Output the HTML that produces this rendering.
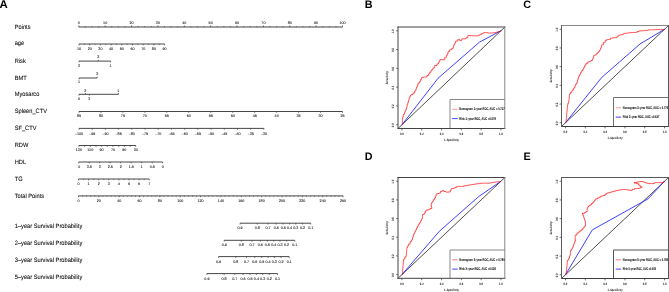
<!DOCTYPE html>
<html><head><meta charset="utf-8"><title>Nomogram and ROC curves</title>
<style>
html,body{margin:0;padding:0;background:#fff;width:669px;height:292px;overflow:hidden}
svg{display:block}
text{font-family:"Liberation Sans", Arial, sans-serif;text-rendering:geometricPrecision}
</style></head>
<body>
<svg width="669" height="292" viewBox="0 0 669 292">
<rect width="669" height="292" fill="#fff"/>
<text x="-0.4" y="7.7" font-size="11.4" text-anchor="start" font-weight="bold" fill="#000">A</text>
<text x="14.7" y="29" font-size="6.3" text-anchor="start" fill="#000" stroke="#000" stroke-width="0.06" textLength="15.81" lengthAdjust="spacingAndGlyphs">Points</text>
<text x="14.7" y="45.3" font-size="6.3" text-anchor="start" fill="#000" stroke="#000" stroke-width="0.06" textLength="9.5" lengthAdjust="spacingAndGlyphs">age</text>
<text x="14.7" y="62.6" font-size="6.3" text-anchor="start" fill="#000" stroke="#000" stroke-width="0.06" textLength="11.06" lengthAdjust="spacingAndGlyphs">Risk</text>
<text x="14.7" y="79.5" font-size="6.3" text-anchor="start" fill="#000" stroke="#000" stroke-width="0.06" textLength="12.02" lengthAdjust="spacingAndGlyphs">BMT</text>
<text x="14.7" y="95.6" font-size="6.3" text-anchor="start" fill="#000" stroke="#000" stroke-width="0.06" textLength="24.66" lengthAdjust="spacingAndGlyphs">Myosarco</text>
<text x="14.7" y="113.3" font-size="6.3" text-anchor="start" fill="#000" stroke="#000" stroke-width="0.06" textLength="32.25" lengthAdjust="spacingAndGlyphs">Spleen_CTV</text>
<text x="14.7" y="129.8" font-size="6.3" text-anchor="start" fill="#000" stroke="#000" stroke-width="0.06" textLength="21.81" lengthAdjust="spacingAndGlyphs">SF_CTV</text>
<text x="14.7" y="146.7" font-size="6.3" text-anchor="start" fill="#000" stroke="#000" stroke-width="0.06" textLength="13.59" lengthAdjust="spacingAndGlyphs">RDW</text>
<text x="14.7" y="163.6" font-size="6.3" text-anchor="start" fill="#000" stroke="#000" stroke-width="0.06" textLength="11.39" lengthAdjust="spacingAndGlyphs">HDL</text>
<text x="14.7" y="180.5" font-size="6.3" text-anchor="start" fill="#000" stroke="#000" stroke-width="0.06" textLength="7.91" lengthAdjust="spacingAndGlyphs">TG</text>
<text x="14.7" y="198" font-size="6.3" text-anchor="start" fill="#000" stroke="#000" stroke-width="0.06" textLength="29.41" lengthAdjust="spacingAndGlyphs">Total Points</text>
<text x="14.7" y="228" font-size="6.3" text-anchor="start" fill="#000" stroke="#000" stroke-width="0.06" textLength="67.6" lengthAdjust="spacingAndGlyphs">1–year Survival Probability</text>
<text x="14.7" y="244.9" font-size="6.3" text-anchor="start" fill="#000" stroke="#000" stroke-width="0.06" textLength="67.6" lengthAdjust="spacingAndGlyphs">2–year Survival Probability</text>
<text x="14.7" y="261.8" font-size="6.3" text-anchor="start" fill="#000" stroke="#000" stroke-width="0.06" textLength="67.6" lengthAdjust="spacingAndGlyphs">3–year Survival Probability</text>
<text x="14.7" y="278.7" font-size="6.3" text-anchor="start" fill="#000" stroke="#000" stroke-width="0.06" textLength="67.6" lengthAdjust="spacingAndGlyphs">5–year Survival Probability</text>
<line x1="78.8" y1="26.9" x2="342.5" y2="26.9" stroke="#808080" stroke-width="1.5"/>
<line x1="78.8" y1="26.9" x2="78.8" y2="25.5" stroke="#222" stroke-width="0.7"/>
<text x="78.8" y="23.7" font-size="3.7" text-anchor="middle" fill="#000" stroke="#000" stroke-width="0.05">0</text>
<line x1="85.39" y1="27.2" x2="85.39" y2="26" stroke="#444" stroke-width="0.6"/>
<line x1="91.98" y1="27.2" x2="91.98" y2="26" stroke="#444" stroke-width="0.6"/>
<line x1="98.58" y1="27.2" x2="98.58" y2="26" stroke="#444" stroke-width="0.6"/>
<line x1="105.17" y1="26.9" x2="105.17" y2="25.5" stroke="#222" stroke-width="0.7"/>
<text x="105.17" y="23.7" font-size="3.7" text-anchor="middle" fill="#000" stroke="#000" stroke-width="0.05">10</text>
<line x1="111.76" y1="27.2" x2="111.76" y2="26" stroke="#444" stroke-width="0.6"/>
<line x1="118.35" y1="27.2" x2="118.35" y2="26" stroke="#444" stroke-width="0.6"/>
<line x1="124.95" y1="27.2" x2="124.95" y2="26" stroke="#444" stroke-width="0.6"/>
<line x1="131.54" y1="26.9" x2="131.54" y2="25.5" stroke="#222" stroke-width="0.7"/>
<text x="131.54" y="23.7" font-size="3.7" text-anchor="middle" fill="#000" stroke="#000" stroke-width="0.05">20</text>
<line x1="138.13" y1="27.2" x2="138.13" y2="26" stroke="#444" stroke-width="0.6"/>
<line x1="144.72" y1="27.2" x2="144.72" y2="26" stroke="#444" stroke-width="0.6"/>
<line x1="151.32" y1="27.2" x2="151.32" y2="26" stroke="#444" stroke-width="0.6"/>
<line x1="157.91" y1="26.9" x2="157.91" y2="25.5" stroke="#222" stroke-width="0.7"/>
<text x="157.91" y="23.7" font-size="3.7" text-anchor="middle" fill="#000" stroke="#000" stroke-width="0.05">30</text>
<line x1="164.5" y1="27.2" x2="164.5" y2="26" stroke="#444" stroke-width="0.6"/>
<line x1="171.09" y1="27.2" x2="171.09" y2="26" stroke="#444" stroke-width="0.6"/>
<line x1="177.69" y1="27.2" x2="177.69" y2="26" stroke="#444" stroke-width="0.6"/>
<line x1="184.28" y1="26.9" x2="184.28" y2="25.5" stroke="#222" stroke-width="0.7"/>
<text x="184.28" y="23.7" font-size="3.7" text-anchor="middle" fill="#000" stroke="#000" stroke-width="0.05">40</text>
<line x1="190.87" y1="27.2" x2="190.87" y2="26" stroke="#444" stroke-width="0.6"/>
<line x1="197.47" y1="27.2" x2="197.47" y2="26" stroke="#444" stroke-width="0.6"/>
<line x1="204.06" y1="27.2" x2="204.06" y2="26" stroke="#444" stroke-width="0.6"/>
<line x1="210.65" y1="26.9" x2="210.65" y2="25.5" stroke="#222" stroke-width="0.7"/>
<text x="210.65" y="23.7" font-size="3.7" text-anchor="middle" fill="#000" stroke="#000" stroke-width="0.05">50</text>
<line x1="217.24" y1="27.2" x2="217.24" y2="26" stroke="#444" stroke-width="0.6"/>
<line x1="223.83" y1="27.2" x2="223.83" y2="26" stroke="#444" stroke-width="0.6"/>
<line x1="230.43" y1="27.2" x2="230.43" y2="26" stroke="#444" stroke-width="0.6"/>
<line x1="237.02" y1="26.9" x2="237.02" y2="25.5" stroke="#222" stroke-width="0.7"/>
<text x="237.02" y="23.7" font-size="3.7" text-anchor="middle" fill="#000" stroke="#000" stroke-width="0.05">60</text>
<line x1="243.61" y1="27.2" x2="243.61" y2="26" stroke="#444" stroke-width="0.6"/>
<line x1="250.2" y1="27.2" x2="250.2" y2="26" stroke="#444" stroke-width="0.6"/>
<line x1="256.8" y1="27.2" x2="256.8" y2="26" stroke="#444" stroke-width="0.6"/>
<line x1="263.39" y1="26.9" x2="263.39" y2="25.5" stroke="#222" stroke-width="0.7"/>
<text x="263.39" y="23.7" font-size="3.7" text-anchor="middle" fill="#000" stroke="#000" stroke-width="0.05">70</text>
<line x1="269.98" y1="27.2" x2="269.98" y2="26" stroke="#444" stroke-width="0.6"/>
<line x1="276.57" y1="27.2" x2="276.57" y2="26" stroke="#444" stroke-width="0.6"/>
<line x1="283.17" y1="27.2" x2="283.17" y2="26" stroke="#444" stroke-width="0.6"/>
<line x1="289.76" y1="26.9" x2="289.76" y2="25.5" stroke="#222" stroke-width="0.7"/>
<text x="289.76" y="23.7" font-size="3.7" text-anchor="middle" fill="#000" stroke="#000" stroke-width="0.05">80</text>
<line x1="296.35" y1="27.2" x2="296.35" y2="26" stroke="#444" stroke-width="0.6"/>
<line x1="302.94" y1="27.2" x2="302.94" y2="26" stroke="#444" stroke-width="0.6"/>
<line x1="309.54" y1="27.2" x2="309.54" y2="26" stroke="#444" stroke-width="0.6"/>
<line x1="316.13" y1="26.9" x2="316.13" y2="25.5" stroke="#222" stroke-width="0.7"/>
<text x="316.13" y="23.7" font-size="3.7" text-anchor="middle" fill="#000" stroke="#000" stroke-width="0.05">90</text>
<line x1="322.72" y1="27.2" x2="322.72" y2="26" stroke="#444" stroke-width="0.6"/>
<line x1="329.31" y1="27.2" x2="329.31" y2="26" stroke="#444" stroke-width="0.6"/>
<line x1="335.91" y1="27.2" x2="335.91" y2="26" stroke="#444" stroke-width="0.6"/>
<line x1="342.5" y1="26.9" x2="342.5" y2="25.5" stroke="#222" stroke-width="0.7"/>
<text x="342.5" y="23.7" font-size="3.7" text-anchor="middle" fill="#000" stroke="#000" stroke-width="0.05">100</text>
<line x1="79" y1="44" x2="164.6" y2="44" stroke="#333" stroke-width="0.9"/>
<line x1="84.35" y1="44" x2="84.35" y2="44.91" stroke="#333" stroke-width="0.6"/>
<line x1="95.05" y1="44" x2="95.05" y2="44.91" stroke="#333" stroke-width="0.6"/>
<line x1="105.75" y1="44" x2="105.75" y2="44.91" stroke="#333" stroke-width="0.6"/>
<line x1="116.45" y1="44" x2="116.45" y2="44.91" stroke="#333" stroke-width="0.6"/>
<line x1="127.15" y1="44" x2="127.15" y2="44.91" stroke="#333" stroke-width="0.6"/>
<line x1="137.85" y1="44" x2="137.85" y2="44.91" stroke="#333" stroke-width="0.6"/>
<line x1="148.55" y1="44" x2="148.55" y2="44.91" stroke="#333" stroke-width="0.6"/>
<line x1="159.25" y1="44" x2="159.25" y2="44.91" stroke="#333" stroke-width="0.6"/>
<line x1="79" y1="44" x2="79" y2="45.3" stroke="#333" stroke-width="0.7"/>
<text x="79" y="49.5" font-size="3.7" text-anchor="middle" fill="#000" stroke="#000" stroke-width="0.05">10</text>
<line x1="89.7" y1="44" x2="89.7" y2="45.3" stroke="#333" stroke-width="0.7"/>
<text x="89.7" y="49.5" font-size="3.7" text-anchor="middle" fill="#000" stroke="#000" stroke-width="0.05">20</text>
<line x1="100.4" y1="44" x2="100.4" y2="45.3" stroke="#333" stroke-width="0.7"/>
<text x="100.4" y="49.5" font-size="3.7" text-anchor="middle" fill="#000" stroke="#000" stroke-width="0.05">30</text>
<line x1="111.1" y1="44" x2="111.1" y2="45.3" stroke="#333" stroke-width="0.7"/>
<text x="111.1" y="49.5" font-size="3.7" text-anchor="middle" fill="#000" stroke="#000" stroke-width="0.05">40</text>
<line x1="121.8" y1="44" x2="121.8" y2="45.3" stroke="#333" stroke-width="0.7"/>
<text x="121.8" y="49.5" font-size="3.7" text-anchor="middle" fill="#000" stroke="#000" stroke-width="0.05">50</text>
<line x1="132.5" y1="44" x2="132.5" y2="45.3" stroke="#333" stroke-width="0.7"/>
<text x="132.5" y="49.5" font-size="3.7" text-anchor="middle" fill="#000" stroke="#000" stroke-width="0.05">60</text>
<line x1="143.2" y1="44" x2="143.2" y2="45.3" stroke="#333" stroke-width="0.7"/>
<text x="143.2" y="49.5" font-size="3.7" text-anchor="middle" fill="#000" stroke="#000" stroke-width="0.05">70</text>
<line x1="153.9" y1="44" x2="153.9" y2="45.3" stroke="#333" stroke-width="0.7"/>
<text x="153.9" y="49.5" font-size="3.7" text-anchor="middle" fill="#000" stroke="#000" stroke-width="0.05">80</text>
<line x1="164.6" y1="44" x2="164.6" y2="45.3" stroke="#333" stroke-width="0.7"/>
<text x="164.6" y="49.5" font-size="3.7" text-anchor="middle" fill="#000" stroke="#000" stroke-width="0.05">90</text>
<line x1="79" y1="61.1" x2="110.6" y2="61.1" stroke="#333" stroke-width="0.9"/>
<line x1="79" y1="61.1" x2="79" y2="62.4" stroke="#333" stroke-width="0.7"/>
<text x="79" y="66.7" font-size="3.7" text-anchor="middle" fill="#000" stroke="#000" stroke-width="0.05">3</text>
<line x1="98.3" y1="61.1" x2="98.3" y2="59.8" stroke="#333" stroke-width="0.7"/>
<text x="98.3" y="57.8" font-size="3.7" text-anchor="middle" fill="#000" stroke="#000" stroke-width="0.05">2</text>
<line x1="110.6" y1="61.1" x2="110.6" y2="62.4" stroke="#333" stroke-width="0.7"/>
<text x="110.6" y="66.7" font-size="3.7" text-anchor="middle" fill="#000" stroke="#000" stroke-width="0.05">1</text>
<line x1="79" y1="78" x2="97.2" y2="78" stroke="#333" stroke-width="0.9"/>
<line x1="79" y1="78" x2="79" y2="79.3" stroke="#333" stroke-width="0.7"/>
<text x="79" y="82.9" font-size="3.7" text-anchor="middle" fill="#000" stroke="#000" stroke-width="0.05">1</text>
<line x1="97.2" y1="78" x2="97.2" y2="76.7" stroke="#333" stroke-width="0.7"/>
<text x="97.2" y="75.2" font-size="3.7" text-anchor="middle" fill="#000" stroke="#000" stroke-width="0.05">2</text>
<line x1="79" y1="94.3" x2="118.4" y2="94.3" stroke="#333" stroke-width="0.9"/>
<line x1="79" y1="94.3" x2="79" y2="95.6" stroke="#333" stroke-width="0.7"/>
<text x="79" y="99.9" font-size="3.7" text-anchor="middle" fill="#000" stroke="#000" stroke-width="0.05">0</text>
<line x1="85.4" y1="94.3" x2="85.4" y2="93" stroke="#333" stroke-width="0.7"/>
<text x="85.4" y="91.9" font-size="3.7" text-anchor="middle" fill="#000" stroke="#000" stroke-width="0.05">2</text>
<line x1="89.3" y1="94.3" x2="89.3" y2="95.6" stroke="#333" stroke-width="0.7"/>
<text x="89.3" y="99.9" font-size="3.7" text-anchor="middle" fill="#000" stroke="#000" stroke-width="0.05">3</text>
<line x1="118.4" y1="94.3" x2="118.4" y2="93" stroke="#333" stroke-width="0.7"/>
<text x="118.4" y="91.9" font-size="3.7" text-anchor="middle" fill="#000" stroke="#000" stroke-width="0.05">1</text>
<line x1="79" y1="111.5" x2="342.52" y2="111.5" stroke="#333" stroke-width="0.9"/>
<line x1="79" y1="111.5" x2="79" y2="112.8" stroke="#333" stroke-width="0.7"/>
<text x="79" y="116.8" font-size="3.7" text-anchor="middle" fill="#000" stroke="#000" stroke-width="0.05">85</text>
<line x1="100.96" y1="111.5" x2="100.96" y2="112.8" stroke="#333" stroke-width="0.7"/>
<text x="100.96" y="116.8" font-size="3.7" text-anchor="middle" fill="#000" stroke="#000" stroke-width="0.05">80</text>
<line x1="122.92" y1="111.5" x2="122.92" y2="112.8" stroke="#333" stroke-width="0.7"/>
<text x="122.92" y="116.8" font-size="3.7" text-anchor="middle" fill="#000" stroke="#000" stroke-width="0.05">75</text>
<line x1="144.88" y1="111.5" x2="144.88" y2="112.8" stroke="#333" stroke-width="0.7"/>
<text x="144.88" y="116.8" font-size="3.7" text-anchor="middle" fill="#000" stroke="#000" stroke-width="0.05">70</text>
<line x1="166.84" y1="111.5" x2="166.84" y2="112.8" stroke="#333" stroke-width="0.7"/>
<text x="166.84" y="116.8" font-size="3.7" text-anchor="middle" fill="#000" stroke="#000" stroke-width="0.05">65</text>
<line x1="188.8" y1="111.5" x2="188.8" y2="112.8" stroke="#333" stroke-width="0.7"/>
<text x="188.8" y="116.8" font-size="3.7" text-anchor="middle" fill="#000" stroke="#000" stroke-width="0.05">60</text>
<line x1="210.76" y1="111.5" x2="210.76" y2="112.8" stroke="#333" stroke-width="0.7"/>
<text x="210.76" y="116.8" font-size="3.7" text-anchor="middle" fill="#000" stroke="#000" stroke-width="0.05">55</text>
<line x1="232.72" y1="111.5" x2="232.72" y2="112.8" stroke="#333" stroke-width="0.7"/>
<text x="232.72" y="116.8" font-size="3.7" text-anchor="middle" fill="#000" stroke="#000" stroke-width="0.05">50</text>
<line x1="254.68" y1="111.5" x2="254.68" y2="112.8" stroke="#333" stroke-width="0.7"/>
<text x="254.68" y="116.8" font-size="3.7" text-anchor="middle" fill="#000" stroke="#000" stroke-width="0.05">45</text>
<line x1="276.64" y1="111.5" x2="276.64" y2="112.8" stroke="#333" stroke-width="0.7"/>
<text x="276.64" y="116.8" font-size="3.7" text-anchor="middle" fill="#000" stroke="#000" stroke-width="0.05">40</text>
<line x1="298.6" y1="111.5" x2="298.6" y2="112.8" stroke="#333" stroke-width="0.7"/>
<text x="298.6" y="116.8" font-size="3.7" text-anchor="middle" fill="#000" stroke="#000" stroke-width="0.05">35</text>
<line x1="320.56" y1="111.5" x2="320.56" y2="112.8" stroke="#333" stroke-width="0.7"/>
<text x="320.56" y="116.8" font-size="3.7" text-anchor="middle" fill="#000" stroke="#000" stroke-width="0.05">30</text>
<line x1="342.52" y1="111.5" x2="342.52" y2="112.8" stroke="#333" stroke-width="0.7"/>
<text x="342.52" y="116.8" font-size="3.7" text-anchor="middle" fill="#000" stroke="#000" stroke-width="0.05">25</text>
<line x1="79" y1="128.4" x2="263.94" y2="128.4" stroke="#333" stroke-width="0.9"/>
<line x1="79" y1="128.4" x2="79" y2="129.7" stroke="#333" stroke-width="0.7"/>
<text x="79" y="134.8" font-size="3.7" text-anchor="middle" fill="#000" stroke="#000" stroke-width="0.05">–100</text>
<line x1="92.21" y1="128.4" x2="92.21" y2="129.7" stroke="#333" stroke-width="0.7"/>
<text x="92.21" y="134.8" font-size="3.7" text-anchor="middle" fill="#000" stroke="#000" stroke-width="0.05">–95</text>
<line x1="105.42" y1="128.4" x2="105.42" y2="129.7" stroke="#333" stroke-width="0.7"/>
<text x="105.42" y="134.8" font-size="3.7" text-anchor="middle" fill="#000" stroke="#000" stroke-width="0.05">–90</text>
<line x1="118.63" y1="128.4" x2="118.63" y2="129.7" stroke="#333" stroke-width="0.7"/>
<text x="118.63" y="134.8" font-size="3.7" text-anchor="middle" fill="#000" stroke="#000" stroke-width="0.05">–85</text>
<line x1="131.84" y1="128.4" x2="131.84" y2="129.7" stroke="#333" stroke-width="0.7"/>
<text x="131.84" y="134.8" font-size="3.7" text-anchor="middle" fill="#000" stroke="#000" stroke-width="0.05">–80</text>
<line x1="145.05" y1="128.4" x2="145.05" y2="129.7" stroke="#333" stroke-width="0.7"/>
<text x="145.05" y="134.8" font-size="3.7" text-anchor="middle" fill="#000" stroke="#000" stroke-width="0.05">–75</text>
<line x1="158.26" y1="128.4" x2="158.26" y2="129.7" stroke="#333" stroke-width="0.7"/>
<text x="158.26" y="134.8" font-size="3.7" text-anchor="middle" fill="#000" stroke="#000" stroke-width="0.05">–70</text>
<line x1="171.47" y1="128.4" x2="171.47" y2="129.7" stroke="#333" stroke-width="0.7"/>
<text x="171.47" y="134.8" font-size="3.7" text-anchor="middle" fill="#000" stroke="#000" stroke-width="0.05">–65</text>
<line x1="184.68" y1="128.4" x2="184.68" y2="129.7" stroke="#333" stroke-width="0.7"/>
<text x="184.68" y="134.8" font-size="3.7" text-anchor="middle" fill="#000" stroke="#000" stroke-width="0.05">–60</text>
<line x1="197.89" y1="128.4" x2="197.89" y2="129.7" stroke="#333" stroke-width="0.7"/>
<text x="197.89" y="134.8" font-size="3.7" text-anchor="middle" fill="#000" stroke="#000" stroke-width="0.05">–55</text>
<line x1="211.1" y1="128.4" x2="211.1" y2="129.7" stroke="#333" stroke-width="0.7"/>
<text x="211.1" y="134.8" font-size="3.7" text-anchor="middle" fill="#000" stroke="#000" stroke-width="0.05">–50</text>
<line x1="224.31" y1="128.4" x2="224.31" y2="129.7" stroke="#333" stroke-width="0.7"/>
<text x="224.31" y="134.8" font-size="3.7" text-anchor="middle" fill="#000" stroke="#000" stroke-width="0.05">–45</text>
<line x1="237.52" y1="128.4" x2="237.52" y2="129.7" stroke="#333" stroke-width="0.7"/>
<text x="237.52" y="134.8" font-size="3.7" text-anchor="middle" fill="#000" stroke="#000" stroke-width="0.05">–40</text>
<line x1="250.73" y1="128.4" x2="250.73" y2="129.7" stroke="#333" stroke-width="0.7"/>
<text x="250.73" y="134.8" font-size="3.7" text-anchor="middle" fill="#000" stroke="#000" stroke-width="0.05">–35</text>
<line x1="263.94" y1="128.4" x2="263.94" y2="129.7" stroke="#333" stroke-width="0.7"/>
<text x="263.94" y="134.8" font-size="3.7" text-anchor="middle" fill="#000" stroke="#000" stroke-width="0.05">–30</text>
<line x1="78.9" y1="145.5" x2="135.7" y2="145.5" stroke="#333" stroke-width="0.9"/>
<line x1="78.9" y1="145.5" x2="78.9" y2="146.8" stroke="#333" stroke-width="0.7"/>
<text x="78.9" y="150.7" font-size="3.7" text-anchor="middle" fill="#000" stroke="#000" stroke-width="0.05">130</text>
<line x1="84.58" y1="145.5" x2="84.58" y2="146.8" stroke="#333" stroke-width="0.7"/>
<line x1="90.26" y1="145.5" x2="90.26" y2="146.8" stroke="#333" stroke-width="0.7"/>
<text x="90.26" y="150.7" font-size="3.7" text-anchor="middle" fill="#000" stroke="#000" stroke-width="0.05">110</text>
<line x1="95.94" y1="145.5" x2="95.94" y2="146.8" stroke="#333" stroke-width="0.7"/>
<line x1="101.62" y1="145.5" x2="101.62" y2="146.8" stroke="#333" stroke-width="0.7"/>
<text x="101.62" y="150.7" font-size="3.7" text-anchor="middle" fill="#000" stroke="#000" stroke-width="0.05">90</text>
<line x1="107.3" y1="145.5" x2="107.3" y2="146.8" stroke="#333" stroke-width="0.7"/>
<line x1="112.98" y1="145.5" x2="112.98" y2="146.8" stroke="#333" stroke-width="0.7"/>
<text x="112.98" y="150.7" font-size="3.7" text-anchor="middle" fill="#000" stroke="#000" stroke-width="0.05">70</text>
<line x1="118.66" y1="145.5" x2="118.66" y2="146.8" stroke="#333" stroke-width="0.7"/>
<line x1="124.34" y1="145.5" x2="124.34" y2="146.8" stroke="#333" stroke-width="0.7"/>
<text x="124.34" y="150.7" font-size="3.7" text-anchor="middle" fill="#000" stroke="#000" stroke-width="0.05">50</text>
<line x1="130.02" y1="145.5" x2="130.02" y2="146.8" stroke="#333" stroke-width="0.7"/>
<line x1="135.7" y1="145.5" x2="135.7" y2="146.8" stroke="#333" stroke-width="0.7"/>
<text x="135.7" y="150.7" font-size="3.7" text-anchor="middle" fill="#000" stroke="#000" stroke-width="0.05">30</text>
<line x1="78.7" y1="162" x2="162.7" y2="162" stroke="#333" stroke-width="0.9"/>
<line x1="78.7" y1="162" x2="78.7" y2="163.3" stroke="#333" stroke-width="0.7"/>
<text x="78.7" y="168.1" font-size="3.7" text-anchor="middle" fill="#000" stroke="#000" stroke-width="0.05">4</text>
<line x1="89.2" y1="162" x2="89.2" y2="163.3" stroke="#333" stroke-width="0.7"/>
<text x="89.2" y="168.1" font-size="3.7" text-anchor="middle" fill="#000" stroke="#000" stroke-width="0.05">3.5</text>
<line x1="99.7" y1="162" x2="99.7" y2="163.3" stroke="#333" stroke-width="0.7"/>
<text x="99.7" y="168.1" font-size="3.7" text-anchor="middle" fill="#000" stroke="#000" stroke-width="0.05">3</text>
<line x1="110.2" y1="162" x2="110.2" y2="163.3" stroke="#333" stroke-width="0.7"/>
<text x="110.2" y="168.1" font-size="3.7" text-anchor="middle" fill="#000" stroke="#000" stroke-width="0.05">2.5</text>
<line x1="120.7" y1="162" x2="120.7" y2="163.3" stroke="#333" stroke-width="0.7"/>
<text x="120.7" y="168.1" font-size="3.7" text-anchor="middle" fill="#000" stroke="#000" stroke-width="0.05">2</text>
<line x1="131.2" y1="162" x2="131.2" y2="163.3" stroke="#333" stroke-width="0.7"/>
<text x="131.2" y="168.1" font-size="3.7" text-anchor="middle" fill="#000" stroke="#000" stroke-width="0.05">1.5</text>
<line x1="141.7" y1="162" x2="141.7" y2="163.3" stroke="#333" stroke-width="0.7"/>
<text x="141.7" y="168.1" font-size="3.7" text-anchor="middle" fill="#000" stroke="#000" stroke-width="0.05">1</text>
<line x1="152.2" y1="162" x2="152.2" y2="163.3" stroke="#333" stroke-width="0.7"/>
<text x="152.2" y="168.1" font-size="3.7" text-anchor="middle" fill="#000" stroke="#000" stroke-width="0.05">0.5</text>
<line x1="162.7" y1="162" x2="162.7" y2="163.3" stroke="#333" stroke-width="0.7"/>
<text x="162.7" y="168.1" font-size="3.7" text-anchor="middle" fill="#000" stroke="#000" stroke-width="0.05">0</text>
<line x1="78.5" y1="179" x2="149.2" y2="179" stroke="#333" stroke-width="0.9"/>
<line x1="83.55" y1="179" x2="83.55" y2="179.91" stroke="#333" stroke-width="0.6"/>
<line x1="93.65" y1="179" x2="93.65" y2="179.91" stroke="#333" stroke-width="0.6"/>
<line x1="103.75" y1="179" x2="103.75" y2="179.91" stroke="#333" stroke-width="0.6"/>
<line x1="113.85" y1="179" x2="113.85" y2="179.91" stroke="#333" stroke-width="0.6"/>
<line x1="123.95" y1="179" x2="123.95" y2="179.91" stroke="#333" stroke-width="0.6"/>
<line x1="134.05" y1="179" x2="134.05" y2="179.91" stroke="#333" stroke-width="0.6"/>
<line x1="144.15" y1="179" x2="144.15" y2="179.91" stroke="#333" stroke-width="0.6"/>
<line x1="78.5" y1="179" x2="78.5" y2="180.3" stroke="#333" stroke-width="0.7"/>
<text x="78.5" y="185.1" font-size="3.7" text-anchor="middle" fill="#000" stroke="#000" stroke-width="0.05">0</text>
<line x1="88.6" y1="179" x2="88.6" y2="180.3" stroke="#333" stroke-width="0.7"/>
<text x="88.6" y="185.1" font-size="3.7" text-anchor="middle" fill="#000" stroke="#000" stroke-width="0.05">1</text>
<line x1="98.7" y1="179" x2="98.7" y2="180.3" stroke="#333" stroke-width="0.7"/>
<text x="98.7" y="185.1" font-size="3.7" text-anchor="middle" fill="#000" stroke="#000" stroke-width="0.05">2</text>
<line x1="108.8" y1="179" x2="108.8" y2="180.3" stroke="#333" stroke-width="0.7"/>
<text x="108.8" y="185.1" font-size="3.7" text-anchor="middle" fill="#000" stroke="#000" stroke-width="0.05">3</text>
<line x1="118.9" y1="179" x2="118.9" y2="180.3" stroke="#333" stroke-width="0.7"/>
<text x="118.9" y="185.1" font-size="3.7" text-anchor="middle" fill="#000" stroke="#000" stroke-width="0.05">4</text>
<line x1="129" y1="179" x2="129" y2="180.3" stroke="#333" stroke-width="0.7"/>
<text x="129" y="185.1" font-size="3.7" text-anchor="middle" fill="#000" stroke="#000" stroke-width="0.05">5</text>
<line x1="139.1" y1="179" x2="139.1" y2="180.3" stroke="#333" stroke-width="0.7"/>
<text x="139.1" y="185.1" font-size="3.7" text-anchor="middle" fill="#000" stroke="#000" stroke-width="0.05">6</text>
<line x1="149.2" y1="179" x2="149.2" y2="180.3" stroke="#333" stroke-width="0.7"/>
<text x="149.2" y="185.1" font-size="3.7" text-anchor="middle" fill="#000" stroke="#000" stroke-width="0.05">7</text>
<line x1="78.5" y1="195.9" x2="343.05" y2="195.9" stroke="#333" stroke-width="0.9"/>
<line x1="82.57" y1="195.9" x2="82.57" y2="196.81" stroke="#333" stroke-width="0.6"/>
<line x1="86.64" y1="195.9" x2="86.64" y2="196.81" stroke="#333" stroke-width="0.6"/>
<line x1="90.71" y1="195.9" x2="90.71" y2="196.81" stroke="#333" stroke-width="0.6"/>
<line x1="94.78" y1="195.9" x2="94.78" y2="196.81" stroke="#333" stroke-width="0.6"/>
<line x1="102.92" y1="195.9" x2="102.92" y2="196.81" stroke="#333" stroke-width="0.6"/>
<line x1="106.99" y1="195.9" x2="106.99" y2="196.81" stroke="#333" stroke-width="0.6"/>
<line x1="111.06" y1="195.9" x2="111.06" y2="196.81" stroke="#333" stroke-width="0.6"/>
<line x1="115.13" y1="195.9" x2="115.13" y2="196.81" stroke="#333" stroke-width="0.6"/>
<line x1="123.27" y1="195.9" x2="123.27" y2="196.81" stroke="#333" stroke-width="0.6"/>
<line x1="127.34" y1="195.9" x2="127.34" y2="196.81" stroke="#333" stroke-width="0.6"/>
<line x1="131.41" y1="195.9" x2="131.41" y2="196.81" stroke="#333" stroke-width="0.6"/>
<line x1="135.48" y1="195.9" x2="135.48" y2="196.81" stroke="#333" stroke-width="0.6"/>
<line x1="143.62" y1="195.9" x2="143.62" y2="196.81" stroke="#333" stroke-width="0.6"/>
<line x1="147.69" y1="195.9" x2="147.69" y2="196.81" stroke="#333" stroke-width="0.6"/>
<line x1="151.76" y1="195.9" x2="151.76" y2="196.81" stroke="#333" stroke-width="0.6"/>
<line x1="155.83" y1="195.9" x2="155.83" y2="196.81" stroke="#333" stroke-width="0.6"/>
<line x1="163.97" y1="195.9" x2="163.97" y2="196.81" stroke="#333" stroke-width="0.6"/>
<line x1="168.04" y1="195.9" x2="168.04" y2="196.81" stroke="#333" stroke-width="0.6"/>
<line x1="172.11" y1="195.9" x2="172.11" y2="196.81" stroke="#333" stroke-width="0.6"/>
<line x1="176.18" y1="195.9" x2="176.18" y2="196.81" stroke="#333" stroke-width="0.6"/>
<line x1="184.32" y1="195.9" x2="184.32" y2="196.81" stroke="#333" stroke-width="0.6"/>
<line x1="188.39" y1="195.9" x2="188.39" y2="196.81" stroke="#333" stroke-width="0.6"/>
<line x1="192.46" y1="195.9" x2="192.46" y2="196.81" stroke="#333" stroke-width="0.6"/>
<line x1="196.53" y1="195.9" x2="196.53" y2="196.81" stroke="#333" stroke-width="0.6"/>
<line x1="204.67" y1="195.9" x2="204.67" y2="196.81" stroke="#333" stroke-width="0.6"/>
<line x1="208.74" y1="195.9" x2="208.74" y2="196.81" stroke="#333" stroke-width="0.6"/>
<line x1="212.81" y1="195.9" x2="212.81" y2="196.81" stroke="#333" stroke-width="0.6"/>
<line x1="216.88" y1="195.9" x2="216.88" y2="196.81" stroke="#333" stroke-width="0.6"/>
<line x1="225.02" y1="195.9" x2="225.02" y2="196.81" stroke="#333" stroke-width="0.6"/>
<line x1="229.09" y1="195.9" x2="229.09" y2="196.81" stroke="#333" stroke-width="0.6"/>
<line x1="233.16" y1="195.9" x2="233.16" y2="196.81" stroke="#333" stroke-width="0.6"/>
<line x1="237.23" y1="195.9" x2="237.23" y2="196.81" stroke="#333" stroke-width="0.6"/>
<line x1="245.37" y1="195.9" x2="245.37" y2="196.81" stroke="#333" stroke-width="0.6"/>
<line x1="249.44" y1="195.9" x2="249.44" y2="196.81" stroke="#333" stroke-width="0.6"/>
<line x1="253.51" y1="195.9" x2="253.51" y2="196.81" stroke="#333" stroke-width="0.6"/>
<line x1="257.58" y1="195.9" x2="257.58" y2="196.81" stroke="#333" stroke-width="0.6"/>
<line x1="265.72" y1="195.9" x2="265.72" y2="196.81" stroke="#333" stroke-width="0.6"/>
<line x1="269.79" y1="195.9" x2="269.79" y2="196.81" stroke="#333" stroke-width="0.6"/>
<line x1="273.86" y1="195.9" x2="273.86" y2="196.81" stroke="#333" stroke-width="0.6"/>
<line x1="277.93" y1="195.9" x2="277.93" y2="196.81" stroke="#333" stroke-width="0.6"/>
<line x1="286.07" y1="195.9" x2="286.07" y2="196.81" stroke="#333" stroke-width="0.6"/>
<line x1="290.14" y1="195.9" x2="290.14" y2="196.81" stroke="#333" stroke-width="0.6"/>
<line x1="294.21" y1="195.9" x2="294.21" y2="196.81" stroke="#333" stroke-width="0.6"/>
<line x1="298.28" y1="195.9" x2="298.28" y2="196.81" stroke="#333" stroke-width="0.6"/>
<line x1="306.42" y1="195.9" x2="306.42" y2="196.81" stroke="#333" stroke-width="0.6"/>
<line x1="310.49" y1="195.9" x2="310.49" y2="196.81" stroke="#333" stroke-width="0.6"/>
<line x1="314.56" y1="195.9" x2="314.56" y2="196.81" stroke="#333" stroke-width="0.6"/>
<line x1="318.63" y1="195.9" x2="318.63" y2="196.81" stroke="#333" stroke-width="0.6"/>
<line x1="326.77" y1="195.9" x2="326.77" y2="196.81" stroke="#333" stroke-width="0.6"/>
<line x1="330.84" y1="195.9" x2="330.84" y2="196.81" stroke="#333" stroke-width="0.6"/>
<line x1="334.91" y1="195.9" x2="334.91" y2="196.81" stroke="#333" stroke-width="0.6"/>
<line x1="338.98" y1="195.9" x2="338.98" y2="196.81" stroke="#333" stroke-width="0.6"/>
<line x1="78.5" y1="195.9" x2="78.5" y2="197.2" stroke="#333" stroke-width="0.7"/>
<text x="78.5" y="201.9" font-size="3.7" text-anchor="middle" fill="#000" stroke="#000" stroke-width="0.05">0</text>
<line x1="98.85" y1="195.9" x2="98.85" y2="197.2" stroke="#333" stroke-width="0.7"/>
<text x="98.85" y="201.9" font-size="3.7" text-anchor="middle" fill="#000" stroke="#000" stroke-width="0.05">20</text>
<line x1="119.2" y1="195.9" x2="119.2" y2="197.2" stroke="#333" stroke-width="0.7"/>
<text x="119.2" y="201.9" font-size="3.7" text-anchor="middle" fill="#000" stroke="#000" stroke-width="0.05">40</text>
<line x1="139.55" y1="195.9" x2="139.55" y2="197.2" stroke="#333" stroke-width="0.7"/>
<text x="139.55" y="201.9" font-size="3.7" text-anchor="middle" fill="#000" stroke="#000" stroke-width="0.05">60</text>
<line x1="159.9" y1="195.9" x2="159.9" y2="197.2" stroke="#333" stroke-width="0.7"/>
<text x="159.9" y="201.9" font-size="3.7" text-anchor="middle" fill="#000" stroke="#000" stroke-width="0.05">80</text>
<line x1="180.25" y1="195.9" x2="180.25" y2="197.2" stroke="#333" stroke-width="0.7"/>
<text x="180.25" y="201.9" font-size="3.7" text-anchor="middle" fill="#000" stroke="#000" stroke-width="0.05">100</text>
<line x1="200.6" y1="195.9" x2="200.6" y2="197.2" stroke="#333" stroke-width="0.7"/>
<text x="200.6" y="201.9" font-size="3.7" text-anchor="middle" fill="#000" stroke="#000" stroke-width="0.05">120</text>
<line x1="220.95" y1="195.9" x2="220.95" y2="197.2" stroke="#333" stroke-width="0.7"/>
<text x="220.95" y="201.9" font-size="3.7" text-anchor="middle" fill="#000" stroke="#000" stroke-width="0.05">140</text>
<line x1="241.3" y1="195.9" x2="241.3" y2="197.2" stroke="#333" stroke-width="0.7"/>
<text x="241.3" y="201.9" font-size="3.7" text-anchor="middle" fill="#000" stroke="#000" stroke-width="0.05">160</text>
<line x1="261.65" y1="195.9" x2="261.65" y2="197.2" stroke="#333" stroke-width="0.7"/>
<text x="261.65" y="201.9" font-size="3.7" text-anchor="middle" fill="#000" stroke="#000" stroke-width="0.05">180</text>
<line x1="282" y1="195.9" x2="282" y2="197.2" stroke="#333" stroke-width="0.7"/>
<text x="282" y="201.9" font-size="3.7" text-anchor="middle" fill="#000" stroke="#000" stroke-width="0.05">200</text>
<line x1="302.35" y1="195.9" x2="302.35" y2="197.2" stroke="#333" stroke-width="0.7"/>
<text x="302.35" y="201.9" font-size="3.7" text-anchor="middle" fill="#000" stroke="#000" stroke-width="0.05">220</text>
<line x1="322.7" y1="195.9" x2="322.7" y2="197.2" stroke="#333" stroke-width="0.7"/>
<text x="322.7" y="201.9" font-size="3.7" text-anchor="middle" fill="#000" stroke="#000" stroke-width="0.05">240</text>
<line x1="343.05" y1="195.9" x2="343.05" y2="197.2" stroke="#333" stroke-width="0.7"/>
<text x="343.05" y="201.9" font-size="3.7" text-anchor="middle" fill="#000" stroke="#000" stroke-width="0.05">260</text>
<line x1="240.1" y1="223.2" x2="310.7" y2="223.2" stroke="#333" stroke-width="0.9"/>
<line x1="240.1" y1="223.2" x2="240.1" y2="224.5" stroke="#333" stroke-width="0.7"/>
<text x="240.1" y="229.2" font-size="3.7" text-anchor="middle" fill="#000" stroke="#000" stroke-width="0.05">0.9</text>
<line x1="257.28" y1="223.2" x2="257.28" y2="224.5" stroke="#333" stroke-width="0.7"/>
<text x="257.28" y="229.2" font-size="3.7" text-anchor="middle" fill="#000" stroke="#000" stroke-width="0.05">0.8</text>
<line x1="268.01" y1="223.2" x2="268.01" y2="224.5" stroke="#333" stroke-width="0.7"/>
<text x="268.01" y="229.2" font-size="3.7" text-anchor="middle" fill="#000" stroke="#000" stroke-width="0.05">0.7</text>
<line x1="276.23" y1="223.2" x2="276.23" y2="224.5" stroke="#333" stroke-width="0.7"/>
<text x="276.23" y="229.2" font-size="3.7" text-anchor="middle" fill="#000" stroke="#000" stroke-width="0.05">0.6</text>
<line x1="283.22" y1="223.2" x2="283.22" y2="224.5" stroke="#333" stroke-width="0.7"/>
<text x="283.22" y="229.2" font-size="3.7" text-anchor="middle" fill="#000" stroke="#000" stroke-width="0.05">0.5</text>
<line x1="289.61" y1="223.2" x2="289.61" y2="224.5" stroke="#333" stroke-width="0.7"/>
<text x="289.61" y="229.2" font-size="3.7" text-anchor="middle" fill="#000" stroke="#000" stroke-width="0.05">0.4</text>
<line x1="295.86" y1="223.2" x2="295.86" y2="224.5" stroke="#333" stroke-width="0.7"/>
<text x="295.86" y="229.2" font-size="3.7" text-anchor="middle" fill="#000" stroke="#000" stroke-width="0.05">0.3</text>
<line x1="302.5" y1="223.2" x2="302.5" y2="224.5" stroke="#333" stroke-width="0.7"/>
<text x="302.5" y="229.2" font-size="3.7" text-anchor="middle" fill="#000" stroke="#000" stroke-width="0.05">0.2</text>
<line x1="310.7" y1="223.2" x2="310.7" y2="224.5" stroke="#333" stroke-width="0.7"/>
<text x="310.7" y="229.2" font-size="3.7" text-anchor="middle" fill="#000" stroke="#000" stroke-width="0.05">0.1</text>
<line x1="224.2" y1="240.3" x2="294.8" y2="240.3" stroke="#333" stroke-width="0.9"/>
<line x1="224.2" y1="240.3" x2="224.2" y2="241.6" stroke="#333" stroke-width="0.7"/>
<text x="224.2" y="246.3" font-size="3.7" text-anchor="middle" fill="#000" stroke="#000" stroke-width="0.05">0.9</text>
<line x1="241.38" y1="240.3" x2="241.38" y2="241.6" stroke="#333" stroke-width="0.7"/>
<text x="241.38" y="246.3" font-size="3.7" text-anchor="middle" fill="#000" stroke="#000" stroke-width="0.05">0.8</text>
<line x1="252.11" y1="240.3" x2="252.11" y2="241.6" stroke="#333" stroke-width="0.7"/>
<text x="252.11" y="246.3" font-size="3.7" text-anchor="middle" fill="#000" stroke="#000" stroke-width="0.05">0.7</text>
<line x1="260.33" y1="240.3" x2="260.33" y2="241.6" stroke="#333" stroke-width="0.7"/>
<text x="260.33" y="246.3" font-size="3.7" text-anchor="middle" fill="#000" stroke="#000" stroke-width="0.05">0.6</text>
<line x1="267.32" y1="240.3" x2="267.32" y2="241.6" stroke="#333" stroke-width="0.7"/>
<text x="267.32" y="246.3" font-size="3.7" text-anchor="middle" fill="#000" stroke="#000" stroke-width="0.05">0.5</text>
<line x1="273.71" y1="240.3" x2="273.71" y2="241.6" stroke="#333" stroke-width="0.7"/>
<text x="273.71" y="246.3" font-size="3.7" text-anchor="middle" fill="#000" stroke="#000" stroke-width="0.05">0.4</text>
<line x1="279.96" y1="240.3" x2="279.96" y2="241.6" stroke="#333" stroke-width="0.7"/>
<text x="279.96" y="246.3" font-size="3.7" text-anchor="middle" fill="#000" stroke="#000" stroke-width="0.05">0.3</text>
<line x1="286.6" y1="240.3" x2="286.6" y2="241.6" stroke="#333" stroke-width="0.7"/>
<text x="286.6" y="246.3" font-size="3.7" text-anchor="middle" fill="#000" stroke="#000" stroke-width="0.05">0.2</text>
<line x1="294.8" y1="240.3" x2="294.8" y2="241.6" stroke="#333" stroke-width="0.7"/>
<text x="294.8" y="246.3" font-size="3.7" text-anchor="middle" fill="#000" stroke="#000" stroke-width="0.05">0.1</text>
<line x1="218.6" y1="256.6" x2="289.2" y2="256.6" stroke="#333" stroke-width="0.9"/>
<line x1="218.6" y1="256.6" x2="218.6" y2="257.9" stroke="#333" stroke-width="0.7"/>
<text x="218.6" y="262.6" font-size="3.7" text-anchor="middle" fill="#000" stroke="#000" stroke-width="0.05">0.9</text>
<line x1="235.78" y1="256.6" x2="235.78" y2="257.9" stroke="#333" stroke-width="0.7"/>
<text x="235.78" y="262.6" font-size="3.7" text-anchor="middle" fill="#000" stroke="#000" stroke-width="0.05">0.8</text>
<line x1="246.51" y1="256.6" x2="246.51" y2="257.9" stroke="#333" stroke-width="0.7"/>
<text x="246.51" y="262.6" font-size="3.7" text-anchor="middle" fill="#000" stroke="#000" stroke-width="0.05">0.7</text>
<line x1="254.73" y1="256.6" x2="254.73" y2="257.9" stroke="#333" stroke-width="0.7"/>
<text x="254.73" y="262.6" font-size="3.7" text-anchor="middle" fill="#000" stroke="#000" stroke-width="0.05">0.6</text>
<line x1="261.72" y1="256.6" x2="261.72" y2="257.9" stroke="#333" stroke-width="0.7"/>
<text x="261.72" y="262.6" font-size="3.7" text-anchor="middle" fill="#000" stroke="#000" stroke-width="0.05">0.5</text>
<line x1="268.11" y1="256.6" x2="268.11" y2="257.9" stroke="#333" stroke-width="0.7"/>
<text x="268.11" y="262.6" font-size="3.7" text-anchor="middle" fill="#000" stroke="#000" stroke-width="0.05">0.4</text>
<line x1="274.36" y1="256.6" x2="274.36" y2="257.9" stroke="#333" stroke-width="0.7"/>
<text x="274.36" y="262.6" font-size="3.7" text-anchor="middle" fill="#000" stroke="#000" stroke-width="0.05">0.3</text>
<line x1="281" y1="256.6" x2="281" y2="257.9" stroke="#333" stroke-width="0.7"/>
<text x="281" y="262.6" font-size="3.7" text-anchor="middle" fill="#000" stroke="#000" stroke-width="0.05">0.2</text>
<line x1="289.2" y1="256.6" x2="289.2" y2="257.9" stroke="#333" stroke-width="0.7"/>
<text x="289.2" y="262.6" font-size="3.7" text-anchor="middle" fill="#000" stroke="#000" stroke-width="0.05">0.1</text>
<line x1="206.9" y1="273.6" x2="277.5" y2="273.6" stroke="#333" stroke-width="0.9"/>
<line x1="206.9" y1="273.6" x2="206.9" y2="274.9" stroke="#333" stroke-width="0.7"/>
<text x="206.9" y="279.6" font-size="3.7" text-anchor="middle" fill="#000" stroke="#000" stroke-width="0.05">0.9</text>
<line x1="224.08" y1="273.6" x2="224.08" y2="274.9" stroke="#333" stroke-width="0.7"/>
<text x="224.08" y="279.6" font-size="3.7" text-anchor="middle" fill="#000" stroke="#000" stroke-width="0.05">0.8</text>
<line x1="234.81" y1="273.6" x2="234.81" y2="274.9" stroke="#333" stroke-width="0.7"/>
<text x="234.81" y="279.6" font-size="3.7" text-anchor="middle" fill="#000" stroke="#000" stroke-width="0.05">0.7</text>
<line x1="243.03" y1="273.6" x2="243.03" y2="274.9" stroke="#333" stroke-width="0.7"/>
<text x="243.03" y="279.6" font-size="3.7" text-anchor="middle" fill="#000" stroke="#000" stroke-width="0.05">0.6</text>
<line x1="250.02" y1="273.6" x2="250.02" y2="274.9" stroke="#333" stroke-width="0.7"/>
<text x="250.02" y="279.6" font-size="3.7" text-anchor="middle" fill="#000" stroke="#000" stroke-width="0.05">0.5</text>
<line x1="256.41" y1="273.6" x2="256.41" y2="274.9" stroke="#333" stroke-width="0.7"/>
<text x="256.41" y="279.6" font-size="3.7" text-anchor="middle" fill="#000" stroke="#000" stroke-width="0.05">0.4</text>
<line x1="262.66" y1="273.6" x2="262.66" y2="274.9" stroke="#333" stroke-width="0.7"/>
<text x="262.66" y="279.6" font-size="3.7" text-anchor="middle" fill="#000" stroke="#000" stroke-width="0.05">0.3</text>
<line x1="269.3" y1="273.6" x2="269.3" y2="274.9" stroke="#333" stroke-width="0.7"/>
<text x="269.3" y="279.6" font-size="3.7" text-anchor="middle" fill="#000" stroke="#000" stroke-width="0.05">0.2</text>
<line x1="277.5" y1="273.6" x2="277.5" y2="274.9" stroke="#333" stroke-width="0.7"/>
<text x="277.5" y="279.6" font-size="3.7" text-anchor="middle" fill="#000" stroke="#000" stroke-width="0.05">0.1</text>
<text x="364.7" y="8.2" font-size="10.8" text-anchor="start" font-weight="bold" fill="#000">B</text>
<line x1="398" y1="128.5" x2="504.9" y2="27" stroke="#222" stroke-width="0.8"/>
<polyline fill="none" stroke="#2a2aff" stroke-width="0.9" stroke-linejoin="round" points="401.96,124.74 438.09,78.22 479.36,42.23 500.94,30.76"/>
<polyline fill="none" stroke="#ff0000" stroke-width="0.65" stroke-linejoin="miter" transform="translate(0.4 0.4)" points="402.1,124.5 402.1,123.25 402.05,123.25 402.05,122 402,122 402,120.35 402,120.35 402,118.7 402,118.7 402,117.5 402.45,117.5 402.45,116.3 402.9,116.3 402.9,113.9 404,113.9 404,112.7 404.4,112.7 404.4,111.5 404.8,111.5 404.8,110.25 405.45,110.25 405.45,109 406.1,109 406.1,107.4 406.45,107.4 406.45,105.8 406.8,105.8 406.8,103.8 407.45,103.8 407.45,101.8 408.1,101.8 408.1,100.15 408.5,100.15 408.5,98.5 408.9,98.5 408.9,97.3 409.45,97.3 409.45,96.1 410,96.1 410,94.8 411,94.8 411,94.2 412.6,94.2 412.6,92.6 414.2,92.6 414.2,90.5 415.3,90.5 415.3,89.3 415.7,89.3 415.7,88.1 416.1,88.1 416.1,86.85 416.75,86.85 416.75,85.6 417.4,85.6 417.4,83.2 418.5,83.2 418.5,82 419.35,82 419.35,80.8 420.2,80.8 420.2,79.1 421.05,79.1 421.05,77.4 421.9,77.4 421.9,77 423.1,77 423.1,76.6 424.3,76.6 424.3,76.6 426.6,76.6 426.6,75.1 428.1,75.1 428.1,73.55 429.25,73.55 429.25,72 430.4,72 430.4,70.45 431.55,70.45 431.55,68.9 432.7,68.9 432.7,67.4 434.3,67.4 434.3,65.1 436.6,65.1 436.6,63.5 438.1,63.5 438.1,61.95 438.9,61.95 438.9,60.4 439.7,60.4 439.7,59.2 442,59.2 442,59.4 444.4,59.4 444.4,57 446,57 446,55.1 446.85,55.1 446.85,53.2 447.7,53.2 447.7,51 449.3,51 449.3,49.4 451,49.4 451,48.3 452.6,48.3 452.6,46.9 453.15,46.9 453.15,45.5 453.7,45.5 453.7,43.85 454.5,43.85 454.5,42.2 455.3,42.2 455.3,40.6 457.5,40.6 457.5,39 459.2,39 459.2,40 461.4,40 461.4,38.4 463.5,38.4 463.5,38.4 465.7,38.4 465.7,37.3 467.4,37.3 467.4,35.1 469.6,35.1 469.6,35.25 471.25,35.25 471.25,35.4 472.9,35.4 472.9,35.4 474.7,35.4 474.7,35.4 476.5,35.4 476.5,35.4 478.3,35.4 478.3,34.7 479.7,34.7 479.7,34 481.1,34 481.1,33.3 482.45,33.3 482.45,32.6 483.8,32.6 483.8,32.2 486,32.2 486,32.4 487.65,32.4 487.65,32.6 489.3,32.6 489.3,32.6 490.95,32.6 490.95,32.6 492.6,32.6 492.6,32.4 494.25,32.4 494.25,32.2 495.9,32.2 495.9,31.75 497.5,31.75 497.5,31.3 499.1,31.3 499.1,30.8 501,30.8"/>
<line x1="401.96" y1="128.5" x2="401.96" y2="130.4" stroke="#333" stroke-width="0.7"/>
<line x1="398" y1="124.74" x2="396.1" y2="124.74" stroke="#333" stroke-width="0.7"/>
<text x="401.96" y="134.7" font-size="3.3" text-anchor="middle" font-weight="bold" fill="#111" textLength="3.8" lengthAdjust="spacingAndGlyphs">0.0</text>
<text x="394.4" y="125.24" font-size="3.3" font-weight="bold" text-anchor="middle" fill="#111" textLength="3.8" lengthAdjust="spacingAndGlyphs" transform="rotate(-90 394.4 125.24)">0.0</text>
<line x1="421.76" y1="128.5" x2="421.76" y2="130.4" stroke="#333" stroke-width="0.7"/>
<line x1="398" y1="105.94" x2="396.1" y2="105.94" stroke="#333" stroke-width="0.7"/>
<text x="421.76" y="134.7" font-size="3.3" text-anchor="middle" font-weight="bold" fill="#111" textLength="3.8" lengthAdjust="spacingAndGlyphs">0.2</text>
<text x="394.4" y="106.44" font-size="3.3" font-weight="bold" text-anchor="middle" fill="#111" textLength="3.8" lengthAdjust="spacingAndGlyphs" transform="rotate(-90 394.4 106.44)">0.2</text>
<line x1="441.55" y1="128.5" x2="441.55" y2="130.4" stroke="#333" stroke-width="0.7"/>
<line x1="398" y1="87.15" x2="396.1" y2="87.15" stroke="#333" stroke-width="0.7"/>
<text x="441.55" y="134.7" font-size="3.3" text-anchor="middle" font-weight="bold" fill="#111" textLength="3.8" lengthAdjust="spacingAndGlyphs">0.4</text>
<text x="394.4" y="87.65" font-size="3.3" font-weight="bold" text-anchor="middle" fill="#111" textLength="3.8" lengthAdjust="spacingAndGlyphs" transform="rotate(-90 394.4 87.65)">0.4</text>
<line x1="461.35" y1="128.5" x2="461.35" y2="130.4" stroke="#333" stroke-width="0.7"/>
<line x1="398" y1="68.35" x2="396.1" y2="68.35" stroke="#333" stroke-width="0.7"/>
<text x="461.35" y="134.7" font-size="3.3" text-anchor="middle" font-weight="bold" fill="#111" textLength="3.8" lengthAdjust="spacingAndGlyphs">0.6</text>
<text x="394.4" y="68.85" font-size="3.3" font-weight="bold" text-anchor="middle" fill="#111" textLength="3.8" lengthAdjust="spacingAndGlyphs" transform="rotate(-90 394.4 68.85)">0.6</text>
<line x1="481.14" y1="128.5" x2="481.14" y2="130.4" stroke="#333" stroke-width="0.7"/>
<line x1="398" y1="49.56" x2="396.1" y2="49.56" stroke="#333" stroke-width="0.7"/>
<text x="481.14" y="134.7" font-size="3.3" text-anchor="middle" font-weight="bold" fill="#111" textLength="3.8" lengthAdjust="spacingAndGlyphs">0.8</text>
<text x="394.4" y="50.06" font-size="3.3" font-weight="bold" text-anchor="middle" fill="#111" textLength="3.8" lengthAdjust="spacingAndGlyphs" transform="rotate(-90 394.4 50.06)">0.8</text>
<line x1="500.94" y1="128.5" x2="500.94" y2="130.4" stroke="#333" stroke-width="0.7"/>
<line x1="398" y1="30.76" x2="396.1" y2="30.76" stroke="#333" stroke-width="0.7"/>
<text x="500.94" y="134.7" font-size="3.3" text-anchor="middle" font-weight="bold" fill="#111" textLength="3.8" lengthAdjust="spacingAndGlyphs">1.0</text>
<text x="394.4" y="31.26" font-size="3.3" font-weight="bold" text-anchor="middle" fill="#111" textLength="3.8" lengthAdjust="spacingAndGlyphs" transform="rotate(-90 394.4 31.26)">1.0</text>
<text x="451.45" y="141.3" font-size="3.2" text-anchor="middle" font-weight="bold" fill="#111" textLength="15" lengthAdjust="spacingAndGlyphs">1–Specificity</text>
<text x="388" y="77.75" font-size="3.2" font-weight="bold" text-anchor="middle" fill="#111" textLength="13" lengthAdjust="spacingAndGlyphs" transform="rotate(-90 388 77.75)">Sensitivity</text>
<rect x="450" y="99.5" width="54.9" height="29" fill="#fff" stroke="none"/>
<line x1="450" y1="99.5" x2="504.9" y2="99.5" stroke="#888" stroke-width="1"/>
<line x1="450" y1="99.5" x2="450" y2="128.5" stroke="#888" stroke-width="1"/>
<line x1="397.5" y1="27" x2="505.4" y2="27" stroke="#444" stroke-width="1"/>
<line x1="397.5" y1="128.5" x2="505.4" y2="128.5" stroke="#444" stroke-width="1"/>
<line x1="398" y1="26.5" x2="398" y2="129" stroke="#444" stroke-width="1"/>
<line x1="504.79" y1="26.5" x2="504.79" y2="129" stroke="#888" stroke-width="1"/>
<line x1="452.2" y1="109.3" x2="457.6" y2="109.3" stroke="#ff9090" stroke-width="0.9"/>
<line x1="452.2" y1="118.6" x2="457.6" y2="118.6" stroke="#2a2aff" stroke-width="0.9"/>
<text x="459.3" y="110.4" font-size="3.8" text-anchor="start" font-weight="bold" fill="#111" stroke="#111" stroke-width="0.06" textLength="45.3" lengthAdjust="spacingAndGlyphs">Nomogram 1–year ROC, AUC = 0.717</text>
<text x="459.3" y="119.7" font-size="3.8" text-anchor="start" font-weight="bold" fill="#111" stroke="#111" stroke-width="0.06" textLength="36.6" lengthAdjust="spacingAndGlyphs">Risk 1–year ROC, AUC =0.678</text>
<text x="523.2" y="8.1" font-size="10.8" text-anchor="start" font-weight="bold" fill="#000">C</text>
<line x1="561.5" y1="126.5" x2="668.5" y2="25.5" stroke="#222" stroke-width="0.8"/>
<polyline fill="none" stroke="#2a2aff" stroke-width="0.9" stroke-linejoin="round" points="565.46,122.76 601.62,77.59 639.97,44.02 664.54,29.24"/>
<polyline fill="none" stroke="#ff0000" stroke-width="0.65" stroke-linejoin="miter" transform="translate(0.4 0.4)" points="565.5,122.7 565.5,121.3 565.8,121.3 565.8,119.6 565.95,119.6 565.95,117.9 566.1,117.9 566.1,116.07 566.23,116.07 566.23,114.23 566.37,114.23 566.37,112.4 566.5,112.4 566.5,110.57 566.7,110.57 566.7,108.73 566.9,108.73 566.9,106.9 567.1,106.9 567.1,105.55 567.3,105.55 567.3,104.2 567.5,104.2 567.5,102.8 568.2,102.8 568.2,101.43 568.4,101.43 568.4,100.07 568.6,100.07 568.6,98.7 568.8,98.7 568.8,97 568.95,97 568.95,95.3 569.1,95.3 569.1,93.5 570.2,93.5 570.2,91.8 571.6,91.8 571.6,89.8 573,89.8 573,87.7 574.3,87.7 574.3,86.35 574.8,86.35 574.8,85 575.3,85 575.3,83.8 576.05,83.8 576.05,82.6 576.8,82.6 576.8,81.1 577.2,81.1 577.2,79.6 577.6,79.6 577.6,78.1 578,78.1 578,76.6 578.73,76.6 578.73,75.1 579.47,75.1 579.47,73.6 580.2,73.6 580.2,71.9 581.35,71.9 581.35,70.2 582.5,70.2 582.5,68.7 583.27,68.7 583.27,67.2 584.03,67.2 584.03,65.7 584.8,65.7 584.8,64.7 585.6,64.7 585.6,62.9 587.4,62.9 587.4,61.4 589.8,61.4 589.8,60.65 591,60.65 591,59.9 592.2,59.9 592.2,58.4 592.8,58.4 592.8,56.9 593.4,56.9 593.4,55.1 594,55.1 594,54.6 595.8,54.6 595.8,53.4 597,53.4 597,52.2 598.2,52.2 598.2,51 599.1,51 599.1,49.8 600,49.8 600,48.3 600.6,48.3 600.6,46.8 601.2,46.8 601.2,44.4 603,44.4 603,42 604.8,42 604.8,40.2 606,40.2 606,39.3 607.8,39.3 607.8,39 610.1,39 610.1,37.8 611.3,37.8 611.3,37.6 612.5,37.6 612.5,37.4 613.7,37.4 613.7,37.3 615.2,37.3 615.2,37.2 616.7,37.2 616.7,35.7 618.5,35.7 618.5,34.6 620.9,34.6 620.9,34.4 622.2,34.4 622.2,33.7 623.6,33.7 623.6,33 625,33 625,32.8 626.8,32.8 626.8,32.6 628.6,32.6 628.6,32.4 630.4,32.4 630.4,32.2 632.2,32.2 632.2,32.13 633.63,32.13 633.63,32.07 635.07,32.07 635.07,32 636.5,32 636.5,31.2 638.7,31.2 638.7,30.5 640.8,30.5 640.8,30.4 642.6,30.4 642.6,30.3 644.4,30.3 644.4,30.1 646.2,30.1 646.2,29.9 648,29.9 648,29.4 650.1,29.4 650.1,29.4 651.9,29.4 651.9,29.4 653.7,29.4 653.7,29.3 655.5,29.3 655.5,29.2 657.3,29.2 657.3,29.2 658.74,29.2 658.74,29.2 660.18,29.2 660.18,29.2 661.62,29.2 661.62,29.2 663.06,29.2 663.06,29.2 664.5,29.2"/>
<line x1="565.46" y1="126.5" x2="565.46" y2="128.4" stroke="#333" stroke-width="0.7"/>
<line x1="561.5" y1="122.76" x2="559.6" y2="122.76" stroke="#333" stroke-width="0.7"/>
<text x="565.46" y="132.7" font-size="3.3" text-anchor="middle" font-weight="bold" fill="#111" textLength="3.8" lengthAdjust="spacingAndGlyphs">0.0</text>
<text x="557.9" y="123.26" font-size="3.3" font-weight="bold" text-anchor="middle" fill="#111" textLength="3.8" lengthAdjust="spacingAndGlyphs" transform="rotate(-90 557.9 123.26)">0.0</text>
<line x1="585.28" y1="126.5" x2="585.28" y2="128.4" stroke="#333" stroke-width="0.7"/>
<line x1="561.5" y1="104.06" x2="559.6" y2="104.06" stroke="#333" stroke-width="0.7"/>
<text x="585.28" y="132.7" font-size="3.3" text-anchor="middle" font-weight="bold" fill="#111" textLength="3.8" lengthAdjust="spacingAndGlyphs">0.2</text>
<text x="557.9" y="104.56" font-size="3.3" font-weight="bold" text-anchor="middle" fill="#111" textLength="3.8" lengthAdjust="spacingAndGlyphs" transform="rotate(-90 557.9 104.56)">0.2</text>
<line x1="605.09" y1="126.5" x2="605.09" y2="128.4" stroke="#333" stroke-width="0.7"/>
<line x1="561.5" y1="85.35" x2="559.6" y2="85.35" stroke="#333" stroke-width="0.7"/>
<text x="605.09" y="132.7" font-size="3.3" text-anchor="middle" font-weight="bold" fill="#111" textLength="3.8" lengthAdjust="spacingAndGlyphs">0.4</text>
<text x="557.9" y="85.85" font-size="3.3" font-weight="bold" text-anchor="middle" fill="#111" textLength="3.8" lengthAdjust="spacingAndGlyphs" transform="rotate(-90 557.9 85.85)">0.4</text>
<line x1="624.91" y1="126.5" x2="624.91" y2="128.4" stroke="#333" stroke-width="0.7"/>
<line x1="561.5" y1="66.65" x2="559.6" y2="66.65" stroke="#333" stroke-width="0.7"/>
<text x="624.91" y="132.7" font-size="3.3" text-anchor="middle" font-weight="bold" fill="#111" textLength="3.8" lengthAdjust="spacingAndGlyphs">0.6</text>
<text x="557.9" y="67.15" font-size="3.3" font-weight="bold" text-anchor="middle" fill="#111" textLength="3.8" lengthAdjust="spacingAndGlyphs" transform="rotate(-90 557.9 67.15)">0.6</text>
<line x1="644.72" y1="126.5" x2="644.72" y2="128.4" stroke="#333" stroke-width="0.7"/>
<line x1="561.5" y1="47.94" x2="559.6" y2="47.94" stroke="#333" stroke-width="0.7"/>
<text x="644.72" y="132.7" font-size="3.3" text-anchor="middle" font-weight="bold" fill="#111" textLength="3.8" lengthAdjust="spacingAndGlyphs">0.8</text>
<text x="557.9" y="48.44" font-size="3.3" font-weight="bold" text-anchor="middle" fill="#111" textLength="3.8" lengthAdjust="spacingAndGlyphs" transform="rotate(-90 557.9 48.44)">0.8</text>
<line x1="664.54" y1="126.5" x2="664.54" y2="128.4" stroke="#333" stroke-width="0.7"/>
<line x1="561.5" y1="29.24" x2="559.6" y2="29.24" stroke="#333" stroke-width="0.7"/>
<text x="664.54" y="132.7" font-size="3.3" text-anchor="middle" font-weight="bold" fill="#111" textLength="3.8" lengthAdjust="spacingAndGlyphs">1.0</text>
<text x="557.9" y="29.74" font-size="3.3" font-weight="bold" text-anchor="middle" fill="#111" textLength="3.8" lengthAdjust="spacingAndGlyphs" transform="rotate(-90 557.9 29.74)">1.0</text>
<text x="615" y="139.3" font-size="3.2" text-anchor="middle" font-weight="bold" fill="#111" textLength="15" lengthAdjust="spacingAndGlyphs">1–Specificity</text>
<text x="551.5" y="76" font-size="3.2" font-weight="bold" text-anchor="middle" fill="#111" textLength="13" lengthAdjust="spacingAndGlyphs" transform="rotate(-90 551.5 76)">Sensitivity</text>
<rect x="613.5" y="97.5" width="55" height="29" fill="#fff" stroke="none"/>
<line x1="613.5" y1="97.5" x2="668.5" y2="97.5" stroke="#707070" stroke-width="1"/>
<line x1="613.5" y1="97.5" x2="613.5" y2="126.5" stroke="#707070" stroke-width="1"/>
<line x1="561" y1="25.5" x2="669" y2="25.5" stroke="#888" stroke-width="1"/>
<line x1="561" y1="126.5" x2="669" y2="126.5" stroke="#3c3c3c" stroke-width="1"/>
<line x1="561.5" y1="25" x2="561.5" y2="127" stroke="#5a5a5a" stroke-width="1"/>
<line x1="668.5" y1="25" x2="668.5" y2="127" stroke="#5a5a5a" stroke-width="1"/>
<line x1="615.7" y1="107.8" x2="621.1" y2="107.8" stroke="#ff9090" stroke-width="0.9"/>
<line x1="615.7" y1="117.1" x2="621.1" y2="117.1" stroke="#2a2aff" stroke-width="0.9"/>
<text x="622.8" y="108.9" font-size="3.8" text-anchor="start" font-weight="bold" fill="#111" stroke="#111" stroke-width="0.06" textLength="45.4" lengthAdjust="spacingAndGlyphs">Nomogram 2–year ROC, AUC = 0.776</text>
<text x="622.8" y="118.2" font-size="3.8" text-anchor="start" font-weight="bold" fill="#111" stroke="#111" stroke-width="0.06" textLength="36.6" lengthAdjust="spacingAndGlyphs">Risk 2–year ROC, AUC =0.637</text>
<text x="364.7" y="160" font-size="10.8" text-anchor="start" font-weight="bold" fill="#000">D</text>
<line x1="398" y1="278.3" x2="504.9" y2="177.5" stroke="#222" stroke-width="0.8"/>
<polyline fill="none" stroke="#2a2aff" stroke-width="0.9" stroke-linejoin="round" points="401.96,274.57 439.28,231.35 478.37,196.82 500.94,181.23"/>
<polyline fill="none" stroke="#ff0000" stroke-width="0.65" stroke-linejoin="miter" transform="translate(0.4 0.4)" points="402.1,274.7 402.1,273.4 402.2,273.4 402.2,271.83 402.27,271.83 402.27,270.27 402.33,270.27 402.33,268.7 402.4,268.7 402.4,267.22 402.53,267.22 402.53,265.73 402.67,265.73 402.67,264.25 402.8,264.25 402.8,262.77 402.93,262.77 402.93,261.28 403.07,261.28 403.07,259.8 403.2,259.8 403.2,258.7 404.5,258.7 404.5,256.6 405.6,256.6 405.6,255.4 405.85,255.4 405.85,254.2 406.1,254.2 406.1,252.77 406.2,252.77 406.2,251.35 406.3,251.35 406.3,249.93 406.4,249.93 406.4,248.5 406.5,248.5 406.5,246.9 407.3,246.9 407.3,245.3 408.1,245.3 408.1,243.7 409.7,243.7 409.7,241.3 411,241.3 411,240.1 411.55,240.1 411.55,238.9 412.1,238.9 412.1,237.47 412.57,237.47 412.57,236.03 413.03,236.03 413.03,234.6 413.5,234.6 413.5,232.9 414.4,232.9 414.4,231.2 415.3,231.2 415.3,229.45 416.15,229.45 416.15,227.7 417,227.7 417,226 417.85,226 417.85,224.3 418.7,224.3 418.7,223.05 419.55,223.05 419.55,221.8 420.4,221.8 420.4,220.05 421.25,220.05 421.25,218.3 422.1,218.3 422.1,217.05 422.1,217.05 422.1,215.8 422.1,215.8 422.1,214.1 423.8,214.1 423.8,212.8 424.65,212.8 424.65,211.5 425.5,211.5 425.5,209.8 427.2,209.8 427.2,209.35 428.5,209.35 428.5,208.9 429.8,208.9 429.8,208.1 431.5,208.1 431.5,206.8 431.05,206.8 431.05,205.5 430.6,205.5 430.6,204.25 431.05,204.25 431.05,203 431.5,203 431.5,201.7 432.35,201.7 432.35,200.4 433.2,200.4 433.2,199.1 434.05,199.1 434.05,197.8 434.9,197.8 434.9,196.55 435.35,196.55 435.35,195.3 435.8,195.3 435.8,193.5 437.5,193.5 437.5,193.1 438.75,193.1 438.75,192.7 440,192.7 440,191 441.8,191 441.8,190.3 443.5,190.3 443.5,191.1 445.3,191.1 445.3,191.7 447.6,191.7 447.6,191.6 449.9,191.6 449.9,190.05 450.7,190.05 450.7,188.5 451.5,188.5 451.5,188.1 453.15,188.1 453.15,187.7 454.8,187.7 454.8,186.85 456.45,186.85 456.45,186 458.1,186 458.1,186 459.73,186 459.73,186 461.37,186 461.37,186 463,186 463,185.6 464.65,185.6 464.65,185.2 466.3,185.2 466.3,184.93 467.97,184.93 467.97,184.67 469.63,184.67 469.63,184.4 471.3,184.4 471.3,184.13 472.93,184.13 472.93,183.87 474.57,183.87 474.57,183.6 476.2,183.6 476.2,183.4 477.85,183.4 477.85,183.2 479.5,183.2 479.5,183 481.15,183 481.15,182.8 482.8,182.8 482.8,182.8 484.43,182.8 484.43,182.8 486.05,182.8 486.05,182.8 487.68,182.8 487.68,182.8 489.3,182.8 489.3,182.5 490.97,182.5 490.97,182.2 492.63,182.2 492.63,181.9 494.3,181.9 494.3,181.72 495.82,181.72 495.82,181.55 497.35,181.55 497.35,181.38 498.88,181.38 498.88,181.2 500.4,181.2"/>
<line x1="401.96" y1="278.3" x2="401.96" y2="280.2" stroke="#333" stroke-width="0.7"/>
<line x1="398" y1="274.57" x2="396.1" y2="274.57" stroke="#333" stroke-width="0.7"/>
<text x="401.96" y="284.5" font-size="3.3" text-anchor="middle" font-weight="bold" fill="#111" textLength="3.8" lengthAdjust="spacingAndGlyphs">0.0</text>
<text x="394.4" y="275.07" font-size="3.3" font-weight="bold" text-anchor="middle" fill="#111" textLength="3.8" lengthAdjust="spacingAndGlyphs" transform="rotate(-90 394.4 275.07)">0.0</text>
<line x1="421.76" y1="278.3" x2="421.76" y2="280.2" stroke="#333" stroke-width="0.7"/>
<line x1="398" y1="255.9" x2="396.1" y2="255.9" stroke="#333" stroke-width="0.7"/>
<text x="421.76" y="284.5" font-size="3.3" text-anchor="middle" font-weight="bold" fill="#111" textLength="3.8" lengthAdjust="spacingAndGlyphs">0.2</text>
<text x="394.4" y="256.4" font-size="3.3" font-weight="bold" text-anchor="middle" fill="#111" textLength="3.8" lengthAdjust="spacingAndGlyphs" transform="rotate(-90 394.4 256.4)">0.2</text>
<line x1="441.55" y1="278.3" x2="441.55" y2="280.2" stroke="#333" stroke-width="0.7"/>
<line x1="398" y1="237.23" x2="396.1" y2="237.23" stroke="#333" stroke-width="0.7"/>
<text x="441.55" y="284.5" font-size="3.3" text-anchor="middle" font-weight="bold" fill="#111" textLength="3.8" lengthAdjust="spacingAndGlyphs">0.4</text>
<text x="394.4" y="237.73" font-size="3.3" font-weight="bold" text-anchor="middle" fill="#111" textLength="3.8" lengthAdjust="spacingAndGlyphs" transform="rotate(-90 394.4 237.73)">0.4</text>
<line x1="461.35" y1="278.3" x2="461.35" y2="280.2" stroke="#333" stroke-width="0.7"/>
<line x1="398" y1="218.57" x2="396.1" y2="218.57" stroke="#333" stroke-width="0.7"/>
<text x="461.35" y="284.5" font-size="3.3" text-anchor="middle" font-weight="bold" fill="#111" textLength="3.8" lengthAdjust="spacingAndGlyphs">0.6</text>
<text x="394.4" y="219.07" font-size="3.3" font-weight="bold" text-anchor="middle" fill="#111" textLength="3.8" lengthAdjust="spacingAndGlyphs" transform="rotate(-90 394.4 219.07)">0.6</text>
<line x1="481.14" y1="278.3" x2="481.14" y2="280.2" stroke="#333" stroke-width="0.7"/>
<line x1="398" y1="199.9" x2="396.1" y2="199.9" stroke="#333" stroke-width="0.7"/>
<text x="481.14" y="284.5" font-size="3.3" text-anchor="middle" font-weight="bold" fill="#111" textLength="3.8" lengthAdjust="spacingAndGlyphs">0.8</text>
<text x="394.4" y="200.4" font-size="3.3" font-weight="bold" text-anchor="middle" fill="#111" textLength="3.8" lengthAdjust="spacingAndGlyphs" transform="rotate(-90 394.4 200.4)">0.8</text>
<line x1="500.94" y1="278.3" x2="500.94" y2="280.2" stroke="#333" stroke-width="0.7"/>
<line x1="398" y1="181.23" x2="396.1" y2="181.23" stroke="#333" stroke-width="0.7"/>
<text x="500.94" y="284.5" font-size="3.3" text-anchor="middle" font-weight="bold" fill="#111" textLength="3.8" lengthAdjust="spacingAndGlyphs">1.0</text>
<text x="394.4" y="181.73" font-size="3.3" font-weight="bold" text-anchor="middle" fill="#111" textLength="3.8" lengthAdjust="spacingAndGlyphs" transform="rotate(-90 394.4 181.73)">1.0</text>
<text x="451.45" y="291.1" font-size="3.2" text-anchor="middle" font-weight="bold" fill="#111" textLength="15" lengthAdjust="spacingAndGlyphs">1–Specificity</text>
<text x="388" y="227.9" font-size="3.2" font-weight="bold" text-anchor="middle" fill="#111" textLength="13" lengthAdjust="spacingAndGlyphs" transform="rotate(-90 388 227.9)">Sensitivity</text>
<rect x="450" y="250" width="54.9" height="28.3" fill="#fff" stroke="none"/>
<line x1="450" y1="250" x2="504.9" y2="250" stroke="#888" stroke-width="1"/>
<line x1="450" y1="250" x2="450" y2="278.3" stroke="#888" stroke-width="1"/>
<line x1="397.5" y1="177.5" x2="505.4" y2="177.5" stroke="#444" stroke-width="1"/>
<line x1="397.5" y1="278.3" x2="505.4" y2="278.3" stroke="#444" stroke-width="1"/>
<line x1="398" y1="177" x2="398" y2="278.8" stroke="#444" stroke-width="1"/>
<line x1="504.79" y1="177" x2="504.79" y2="278.8" stroke="#888" stroke-width="1"/>
<line x1="452.2" y1="259.8" x2="457.6" y2="259.8" stroke="#ff7070" stroke-width="0.9"/>
<line x1="452.2" y1="269.1" x2="457.6" y2="269.1" stroke="#2a2aff" stroke-width="0.9"/>
<text x="459.3" y="260.9" font-size="3.8" text-anchor="start" font-weight="bold" fill="#111" stroke="#111" stroke-width="0.06" textLength="45.3" lengthAdjust="spacingAndGlyphs">Nomogram 3–year ROC, AUC = 0.780</text>
<text x="459.3" y="270.2" font-size="3.8" text-anchor="start" font-weight="bold" fill="#111" stroke="#111" stroke-width="0.06" textLength="36.6" lengthAdjust="spacingAndGlyphs">Risk 3–year ROC, AUC =0.629</text>
<text x="523.6" y="160" font-size="10.8" text-anchor="start" font-weight="bold" fill="#000">E</text>
<line x1="561.5" y1="278.5" x2="668.5" y2="177.5" stroke="#222" stroke-width="0.8"/>
<polyline fill="none" stroke="#2a2aff" stroke-width="0.9" stroke-linejoin="round" points="565.46,274.76 592.31,229.87 647.99,198.92 664.54,181.24"/>
<polyline fill="none" stroke="#ff0000" stroke-width="0.65" stroke-linejoin="miter" transform="translate(0.4 0.4)" points="565.5,274.7 565.5,273 565.9,273 565.9,271.23 566.07,271.23 566.07,269.47 566.23,269.47 566.23,267.7 566.4,267.7 566.4,266.12 566.55,266.12 566.55,264.55 566.7,264.55 566.7,262.97 566.85,262.97 566.85,261.4 567,261.4 567,259.7 568.2,259.7 568.2,257.9 569.1,257.9 569.1,256.1 569.55,256.1 569.55,254.3 570,254.3 570,253 570,253 570,251.7 570,251.7 570,250.35 570.9,250.35 570.9,249 571.8,249 571.8,247.65 572.4,247.65 572.4,246.3 573,246.3 573,244.55 573.55,244.55 573.55,242.8 574.1,242.8 574.1,241.45 574.7,241.45 574.7,240.1 575.3,240.1 575.3,239.4 574.8,239.4 574.8,237.7 574.8,237.7 574.8,236 574.8,236 574.8,234.75 576.1,234.75 576.1,233.5 577.4,233.5 577.4,232.2 578.7,232.2 578.7,230.9 580,230.9 580,230.05 581.25,230.05 581.25,229.2 582.5,229.2 582.5,227.5 583.8,227.5 583.8,225.8 585.1,225.8 585.1,224.1 585.1,224.1 585.1,222.4 585.1,222.4 585.1,221.1 584.65,221.1 584.65,219.8 584.2,219.8 584.2,218.5 583.8,218.5 583.8,217.2 583.4,217.2 583.4,215.95 582.95,215.95 582.95,214.7 582.5,214.7 582.5,212.9 581.7,212.9 581.7,212.9 582.95,212.9 582.95,212.9 584.2,212.9 584.2,212.05 585.5,212.05 585.5,211.2 586.8,211.2 586.8,209.95 586.8,209.95 586.8,208.7 586.8,208.7 586.8,207.4 587.65,207.4 587.65,206.1 588.5,206.1 588.5,205.25 589.8,205.25 589.8,204.4 591.1,204.4 591.1,203.1 592.35,203.1 592.35,201.8 593.6,201.8 593.6,200.55 594.5,200.55 594.5,199.3 595.4,199.3 595.4,198.45 597.1,198.45 597.1,197.6 598.8,197.6 598.8,196.75 600.05,196.75 600.05,195.9 601.3,195.9 601.3,195.45 603.05,195.45 603.05,195 604.8,195 604.8,193.85 606.15,193.85 606.15,192.7 607.5,192.7 607.5,192.4 609,192.4 609,192.1 610.5,192.1 610.5,191.4 612.9,191.4 612.9,190.95 614.4,190.95 614.4,190.5 615.9,190.5 615.9,190.17 617.37,190.17 617.37,189.83 618.83,189.83 618.83,189.5 620.3,189.5 620.3,189.33 621.87,189.33 621.87,189.17 623.43,189.17 623.43,189 625,189 625,189.2 626.35,189.2 626.35,189.4 627.7,189.4 627.7,189.7 629.8,189.7 629.8,190 631.8,190 631.8,189 633.9,189 633.9,188.3 636,188.3 636,188.15 637.35,188.15 637.35,188 638.7,188 638.7,187.65 640.05,187.65 640.05,187.3 641.4,187.3 641.4,186.3 639.7,186.3 639.7,184.6 638,184.6 638,183.2 636,183.2 636,182.5 633.6,182.5 633.6,182.2 635.3,182.2 635.3,182 636.5,182 636.5,181.8 637.7,181.8 637.7,181.45 639.25,181.45 639.25,181.1 640.8,181.1 640.8,181.1 642.8,181.1 642.8,181.8 644.9,181.8 644.9,182.3 646.25,182.3 646.25,182.8 647.6,182.8 647.6,183 649.3,183 649.3,183.2 651,183.2 651,183.2 652.4,183.2 652.4,183.2 653.8,183.2 653.8,182.5 655.1,182.5 655.1,182.2 657.2,182.2 657.2,182.2 659.2,182.2 659.2,182.35 660.6,182.35 660.6,182.5 662,182.5 662,182 663.4,182 663.4,181.2 664.4,181.2"/>
<line x1="565.46" y1="278.5" x2="565.46" y2="280.4" stroke="#333" stroke-width="0.7"/>
<line x1="561.5" y1="274.76" x2="559.6" y2="274.76" stroke="#333" stroke-width="0.7"/>
<text x="565.46" y="284.7" font-size="3.3" text-anchor="middle" font-weight="bold" fill="#111" textLength="3.8" lengthAdjust="spacingAndGlyphs">0.0</text>
<text x="557.9" y="275.26" font-size="3.3" font-weight="bold" text-anchor="middle" fill="#111" textLength="3.8" lengthAdjust="spacingAndGlyphs" transform="rotate(-90 557.9 275.26)">0.0</text>
<line x1="585.28" y1="278.5" x2="585.28" y2="280.4" stroke="#333" stroke-width="0.7"/>
<line x1="561.5" y1="256.06" x2="559.6" y2="256.06" stroke="#333" stroke-width="0.7"/>
<text x="585.28" y="284.7" font-size="3.3" text-anchor="middle" font-weight="bold" fill="#111" textLength="3.8" lengthAdjust="spacingAndGlyphs">0.2</text>
<text x="557.9" y="256.56" font-size="3.3" font-weight="bold" text-anchor="middle" fill="#111" textLength="3.8" lengthAdjust="spacingAndGlyphs" transform="rotate(-90 557.9 256.56)">0.2</text>
<line x1="605.09" y1="278.5" x2="605.09" y2="280.4" stroke="#333" stroke-width="0.7"/>
<line x1="561.5" y1="237.35" x2="559.6" y2="237.35" stroke="#333" stroke-width="0.7"/>
<text x="605.09" y="284.7" font-size="3.3" text-anchor="middle" font-weight="bold" fill="#111" textLength="3.8" lengthAdjust="spacingAndGlyphs">0.4</text>
<text x="557.9" y="237.85" font-size="3.3" font-weight="bold" text-anchor="middle" fill="#111" textLength="3.8" lengthAdjust="spacingAndGlyphs" transform="rotate(-90 557.9 237.85)">0.4</text>
<line x1="624.91" y1="278.5" x2="624.91" y2="280.4" stroke="#333" stroke-width="0.7"/>
<line x1="561.5" y1="218.65" x2="559.6" y2="218.65" stroke="#333" stroke-width="0.7"/>
<text x="624.91" y="284.7" font-size="3.3" text-anchor="middle" font-weight="bold" fill="#111" textLength="3.8" lengthAdjust="spacingAndGlyphs">0.6</text>
<text x="557.9" y="219.15" font-size="3.3" font-weight="bold" text-anchor="middle" fill="#111" textLength="3.8" lengthAdjust="spacingAndGlyphs" transform="rotate(-90 557.9 219.15)">0.6</text>
<line x1="644.72" y1="278.5" x2="644.72" y2="280.4" stroke="#333" stroke-width="0.7"/>
<line x1="561.5" y1="199.94" x2="559.6" y2="199.94" stroke="#333" stroke-width="0.7"/>
<text x="644.72" y="284.7" font-size="3.3" text-anchor="middle" font-weight="bold" fill="#111" textLength="3.8" lengthAdjust="spacingAndGlyphs">0.8</text>
<text x="557.9" y="200.44" font-size="3.3" font-weight="bold" text-anchor="middle" fill="#111" textLength="3.8" lengthAdjust="spacingAndGlyphs" transform="rotate(-90 557.9 200.44)">0.8</text>
<line x1="664.54" y1="278.5" x2="664.54" y2="280.4" stroke="#333" stroke-width="0.7"/>
<line x1="561.5" y1="181.24" x2="559.6" y2="181.24" stroke="#333" stroke-width="0.7"/>
<text x="664.54" y="284.7" font-size="3.3" text-anchor="middle" font-weight="bold" fill="#111" textLength="3.8" lengthAdjust="spacingAndGlyphs">1.0</text>
<text x="557.9" y="181.74" font-size="3.3" font-weight="bold" text-anchor="middle" fill="#111" textLength="3.8" lengthAdjust="spacingAndGlyphs" transform="rotate(-90 557.9 181.74)">1.0</text>
<text x="615" y="291.3" font-size="3.2" text-anchor="middle" font-weight="bold" fill="#111" textLength="15" lengthAdjust="spacingAndGlyphs">1–Specificity</text>
<text x="551.5" y="228" font-size="3.2" font-weight="bold" text-anchor="middle" fill="#111" textLength="13" lengthAdjust="spacingAndGlyphs" transform="rotate(-90 551.5 228)">Sensitivity</text>
<rect x="613.5" y="250" width="55" height="28.5" fill="#fff" stroke="none"/>
<line x1="613.5" y1="250" x2="668.5" y2="250" stroke="#555" stroke-width="1"/>
<line x1="613.5" y1="250" x2="613.5" y2="278.5" stroke="#555" stroke-width="1"/>
<line x1="561" y1="177.5" x2="669" y2="177.5" stroke="#5a5a5a" stroke-width="1"/>
<line x1="561" y1="278.5" x2="669" y2="278.5" stroke="#3c3c3c" stroke-width="1"/>
<line x1="561.5" y1="177" x2="561.5" y2="279" stroke="#5a5a5a" stroke-width="1"/>
<line x1="668.5" y1="177" x2="668.5" y2="279" stroke="#5a5a5a" stroke-width="1"/>
<line x1="615.7" y1="259.8" x2="621.1" y2="259.8" stroke="#ff7070" stroke-width="0.9"/>
<line x1="615.7" y1="269.1" x2="621.1" y2="269.1" stroke="#2a2aff" stroke-width="0.9"/>
<text x="622.8" y="260.9" font-size="3.8" text-anchor="start" font-weight="bold" fill="#111" stroke="#111" stroke-width="0.06" textLength="45.4" lengthAdjust="spacingAndGlyphs">Nomogram 5–year ROC, AUC = 0.785</text>
<text x="622.8" y="270.2" font-size="3.8" text-anchor="start" font-weight="bold" fill="#111" stroke="#111" stroke-width="0.06" textLength="33.2" lengthAdjust="spacingAndGlyphs">Risk 5–year ROC, AUC =0.655</text>
</svg>
</body></html>
